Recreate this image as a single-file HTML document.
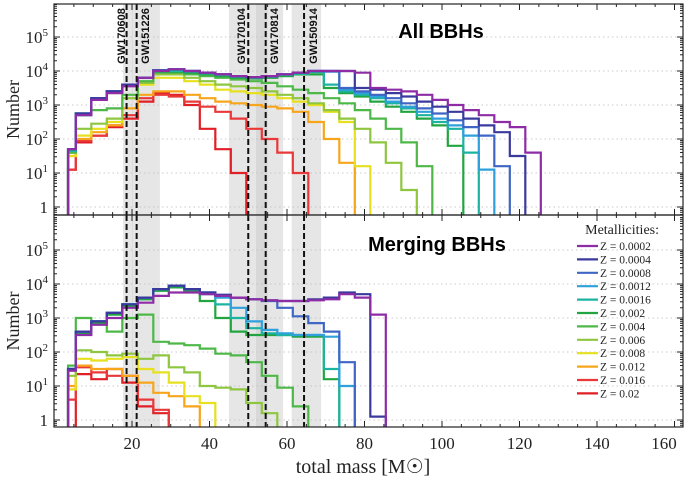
<!DOCTYPE html>
<html><head><meta charset="utf-8"><style>
body{margin:0;background:#fff;}
svg{display:block;font-family:"Liberation Serif",serif;}
</style></head><body>
<svg id="chart" width="685" height="480" viewBox="0 0 685 480" xmlns="http://www.w3.org/2000/svg">
<g id="layer"></g>
</svg>
<script>
// ---------- data ----------
const binEdges = [3.5,5.5,9.5,13.5,17.5,21.5,25.5,29.5,33.5,37.5,41.5,45.5,49.5,53.5,57.5,61.5,65.5,69.5,73.5,77.5,81.5,85.5,89.5,93.5,97.5,101.5,105.5,109.5,113.5,117.5,121.5,125.5,129.5];
const metallicities = ["0.0002","0.0004","0.0008","0.0012","0.0016","0.002","0.004","0.006","0.008","0.012","0.016","0.02"];
const seriesColors = ["#8e2ca6","#3a3a9e","#3f66c4","#2fa0dc","#1db3a2","#22a540","#4db848","#8ec63f","#e6e01e","#f7a51b","#e8383a","#e01f26"];
const gwEvents = ["GW170608","GW151226","GW170104","GW170814","GW150914"];
const gwMass = [18.6,21.2,50.0,54.5,64.4];
const gwBandLo = [17.7,20.0,45.0,52.0,61.2];
const gwBandHi = [20.2,27.2,55.0,59.0,68.8];
const xTicks = [20,40,60,80,100,120,140,160];
const yTicks = [0,1,2,3,4,5];

// log10 counts per bin, "All BBHs"
const top0002=[1.7,2.7,3.15,3.35,3.55,3.8,4.0,4.05,4.0,3.95,3.9,3.85,3.82,3.85,3.9,3.95,4.0,4.0,4.0,3.95,3.5,3.45,3.4,3.3,3.15,3.0,2.85,2.7,2.5,2.35,1.6];
const top0004=[1.7,2.75,3.2,3.4,3.6,3.8,4.02,4.05,4.0,3.95,3.9,3.85,3.82,3.85,3.9,3.95,4.0,4.0,4.0,3.5,3.45,3.35,3.25,3.1,2.95,2.8,2.6,2.4,2.2,1.5];
const top0008=[1.7,2.75,3.2,3.4,3.6,3.8,4.02,4.05,4.0,3.95,3.9,3.85,3.82,3.85,3.9,3.95,4.0,4.0,3.5,3.4,3.3,3.2,3.05,2.9,2.75,2.55,2.35,2.1,1.2];
const top0012=[1.7,2.75,3.2,3.4,3.6,3.8,4.02,4.05,4.0,3.95,3.9,3.85,3.82,3.85,3.9,3.95,4.0,3.98,3.45,3.35,3.25,3.1,2.95,2.8,2.6,2.4,2.1,1.1];
const top0016=[1.65,2.7,3.2,3.4,3.6,3.8,4.0,4.0,3.98,3.93,3.88,3.83,3.8,3.83,3.88,3.92,3.97,3.6,3.4,3.3,3.2,3.05,2.9,2.7,2.5,2.3,1.6];
const top002=[1.65,2.7,3.15,3.4,3.6,3.8,3.98,3.98,3.95,3.9,3.85,3.8,3.78,3.8,3.85,3.9,3.9,3.5,3.35,3.25,3.1,2.95,2.8,2.6,2.4,1.8];
const top004=[1.6,2.75,2.85,2.9,3.3,3.7,3.95,3.95,3.9,3.85,3.8,3.75,3.7,3.65,3.55,3.45,3.35,3.2,3.05,2.85,2.6,2.3,1.9,1.2];
const top006=[1.6,2.3,2.45,2.6,3.2,3.65,3.9,3.9,3.8,3.7,3.6,3.55,3.5,3.4,3.3,3.2,3.05,2.85,2.6,2.3,1.9,1.3,0.5];
const top008=[1.5,2.1,2.3,2.5,3.2,3.6,3.8,3.8,3.7,3.6,3.45,3.4,3.35,3.3,3.2,3.1,3.0,2.8,2.5,1.2];
const top012=[1.5,2.0,2.2,2.4,2.9,3.3,3.4,3.4,3.3,3.2,3.1,3.05,3.0,2.95,2.9,2.8,2.5,2.0,1.3];
const top016=[1.1,1.95,2.1,2.4,2.7,3.2,3.3,3.25,3.1,2.95,2.8,2.6,2.3,2.0,1.6,1.0];
const top02=[1.1,1.9,2.1,2.35,2.6,3.1,3.35,3.3,3.0,2.3,1.7,1.0];
// log10 counts per bin, "Merging BBHs"
const bot0002=[1.45,2.5,2.8,3.0,3.3,3.45,3.65,3.75,3.75,3.7,3.65,3.6,3.55,3.52,3.5,3.5,3.52,3.55,3.7,3.6,3.1];
const bot0004=[1.5,2.6,2.9,3.15,3.4,3.6,3.85,3.95,3.85,3.75,3.68,3.6,3.55,3.52,3.5,3.5,3.55,3.6,3.75,3.7,0.1];
const bot0008=[1.5,2.6,2.9,3.15,3.4,3.6,3.85,3.95,3.85,3.75,3.68,3.6,3.55,3.5,3.3,3.05,2.85,2.6,1.7];
const bot0012=[1.5,2.6,2.9,3.15,3.4,3.6,3.85,3.95,3.85,3.75,3.6,3.3,2.9,2.65,2.55,2.5,2.5,2.45,1.0];
const bot0016=[1.5,2.6,2.9,3.15,3.4,3.6,3.85,3.95,3.85,3.7,3.4,3.0,2.7,2.55,2.5,2.5,2.5,1.5];
const bot002=[1.45,2.55,2.85,3.1,3.35,3.55,3.8,3.9,3.8,3.5,3.0,2.6,2.5,2.5,2.5,2.45,2.45,1.2];
const bot004=[1.6,3.0,2.9,2.6,3.0,3.1,2.3,2.25,2.2,2.1,1.95,1.9,1.7,1.3,0.95,0.4];
const bot006=[1.3,2.05,2.0,1.9,1.95,1.8,1.9,1.55,1.4,1.0,0.95,0.9,0.5,0.2];
const bot008=[0.9,1.8,1.75,1.8,1.85,1.5,1.4,1.1,0.7,0.5];
const bot012=[1.0,1.6,1.5,1.5,1.3,1.1,0.8,0.7,0.4];
const bot016=[0.6,1.55,1.4,1.3,1.3,0.6,0.3];
const bot02=[-1,1.35,1.2,1.5,1.1,0.4,0.2];

const topSeries=[top0002,top0004,top0008,top0012,top0016,top002,top004,top006,top008,top012,top016,top02];
const botSeries=[bot0002,bot0004,bot0008,bot0012,bot0016,bot002,bot004,bot006,bot008,bot012,bot016,bot02];

// ---------- layout ----------
const NS="http://www.w3.org/2000/svg";
const L=54,R=683;
const xs=m=>54.5+m*3.875;
const panels=[{top:4,bottom:215,y0:207,title:"All BBHs",tx:441,ty:38,series:topSeries,name:"all-bbhs"},
              {top:215,bottom:427,y0:420,title:"Merging BBHs",tx:437,ty:251,series:botSeries,name:"merging-bbhs"}];
const layer=document.getElementById('layer');
function mk(tag,attrs,parent){const e=document.createElementNS(NS,tag);for(const k in attrs)e.setAttribute(k,attrs[k]);(parent||layer).appendChild(e);return e;}

panels.forEach((p,pi)=>{
  const ys=v=>p.y0-34*v;
  const g=mk('g',{});
  
  
  const cp=mk('clipPath',{id:'cp'+pi},g);
  mk('rect',{x:L,y:p.top,width:R-L,height:p.bottom-p.top},cp);
  const inner=mk('g',{'clip-path':'url(#cp'+pi+')'},g);
  gwEvents.forEach((ev,i)=>{
    const b=mk('rect',{x:xs(gwBandLo[i]),y:p.top,width:xs(gwBandHi[i])-xs(gwBandLo[i]),height:p.bottom-p.top,fill:'#c8c8c8','fill-opacity':0.45},inner);
    
    
  });
  yTicks.forEach(t=>{
    const gl=mk('line',{x1:L,x2:R,y1:ys(t),y2:ys(t),stroke:'#bbb','stroke-width':0.8,'stroke-dasharray':'1.5,3'},inner);
    
    
  });
  for(let s=p.series.length-1;s>=0;s--){
    const vals=p.series[s];const base=p.bottom+5;
    let d='M'+xs(binEdges[0])+','+base;
    vals.forEach((v,i)=>{
      const y=v<-0.5?base:ys(v);
      d+=' L'+xs(binEdges[i])+','+y+' L'+xs(binEdges[i+1])+','+y;
    });
    d+=' L'+xs(binEdges[vals.length])+','+base;
    const path=mk('path',{d:d,fill:'none',stroke:seriesColors[s],'stroke-width':2.2,'stroke-linejoin':'miter'},inner);
    
    
  }
  gwEvents.forEach((ev,i)=>{
    const dl=mk('line',{x1:xs(gwMass[i]),x2:xs(gwMass[i]),y1:p.top,y2:p.bottom,stroke:'#111','stroke-width':2,'stroke-dasharray':'6,3'},inner);
    
    
  });
  const fr=mk('rect',{x:L,y:p.top,width:R-L,height:p.bottom-p.top,fill:'none',stroke:'#222','stroke-width':1.2},g);
  
  
  for(let m=5;m<=160;m+=5){
    const len=(m%20===0)?6:3;
    mk('line',{x1:xs(m),x2:xs(m),y1:p.bottom,y2:p.bottom-len,stroke:'#222','stroke-width':1},g);
    mk('line',{x1:xs(m),x2:xs(m),y1:p.top,y2:p.top+len,stroke:'#222','stroke-width':1},g);
  }
  for(let dcd=-1;dcd<=5;dcd++){
    for(let k=1;k<10;k++){
      const y=ys(dcd+Math.log10(k));
      if(y<p.top||y>p.bottom)continue;
      const len=k===1?6:3;
      mk('line',{x1:L,x2:L+len,y1:y,y2:y,stroke:'#222','stroke-width':1},g);
      mk('line',{x1:R,x2:R-len,y1:y,y2:y,stroke:'#222','stroke-width':1},g);
    }
  }
  yTicks.forEach(t=>{
    const tx=mk('text',{x:48,y:ys(t)+6,'text-anchor':'end','font-size':17,fill:'#222'},g);
    
    
    if(t===0){tx.textContent='1';}
    else{tx.textContent='10';const sp=mk('tspan',{dy:-7,'font-size':11},tx);sp.textContent=String(t);}
  });
  const yl=mk('text',{x:0,y:0,transform:'translate(19,'+((p.top+p.bottom)/2)+') rotate(-90)','text-anchor':'middle','font-size':18,fill:'#222'},g);
  yl.textContent='Number';
  
  
  const tt=mk('text',{x:p.tx,y:p.ty,'text-anchor':'middle','font-size':20,'font-weight':'bold','font-family':'Liberation Sans, sans-serif',fill:'#000'},g);
  tt.textContent=p.title;
  
  
});
const labelX=[121,145,241,274,313];
gwEvents.forEach((ev,i)=>{
  const t=mk('text',{x:0,y:0,transform:'translate('+(labelX[i]+4)+',36) rotate(-90)','text-anchor':'middle','font-size':11,'font-weight':'bold','font-family':'Liberation Sans, sans-serif',fill:'#111'});
  t.textContent=ev;
  
  
});
xTicks.forEach(m=>{
  const t=mk('text',{x:Math.min(xs(m),664),y:449,'text-anchor':'middle','font-size':17,fill:'#222'});
  t.textContent=String(m);
  
  
});
const xt=mk('text',{x:363,y:473,'text-anchor':'middle','font-size':20,fill:'#222'});
xt.textContent='total mass [M☉]';


const lg=mk('g',{});


const lt=mk('text',{x:659,y:234,'text-anchor':'end','font-size':14,fill:'#222'},lg);
lt.textContent='Metallicities:';
metallicities.forEach((z,i)=>{
  const y=246+i*13.4;
  const e=mk('g',{},lg);
  
  
  mk('line',{x1:577,x2:598,y1:y,y2:y,stroke:seriesColors[i],'stroke-width':2.2},e);
  const t=mk('text',{x:600,y:y+4,'font-size':11.5,fill:'#222'},e);
  t.textContent='Z = '+z;
});
</script>
</body></html>
